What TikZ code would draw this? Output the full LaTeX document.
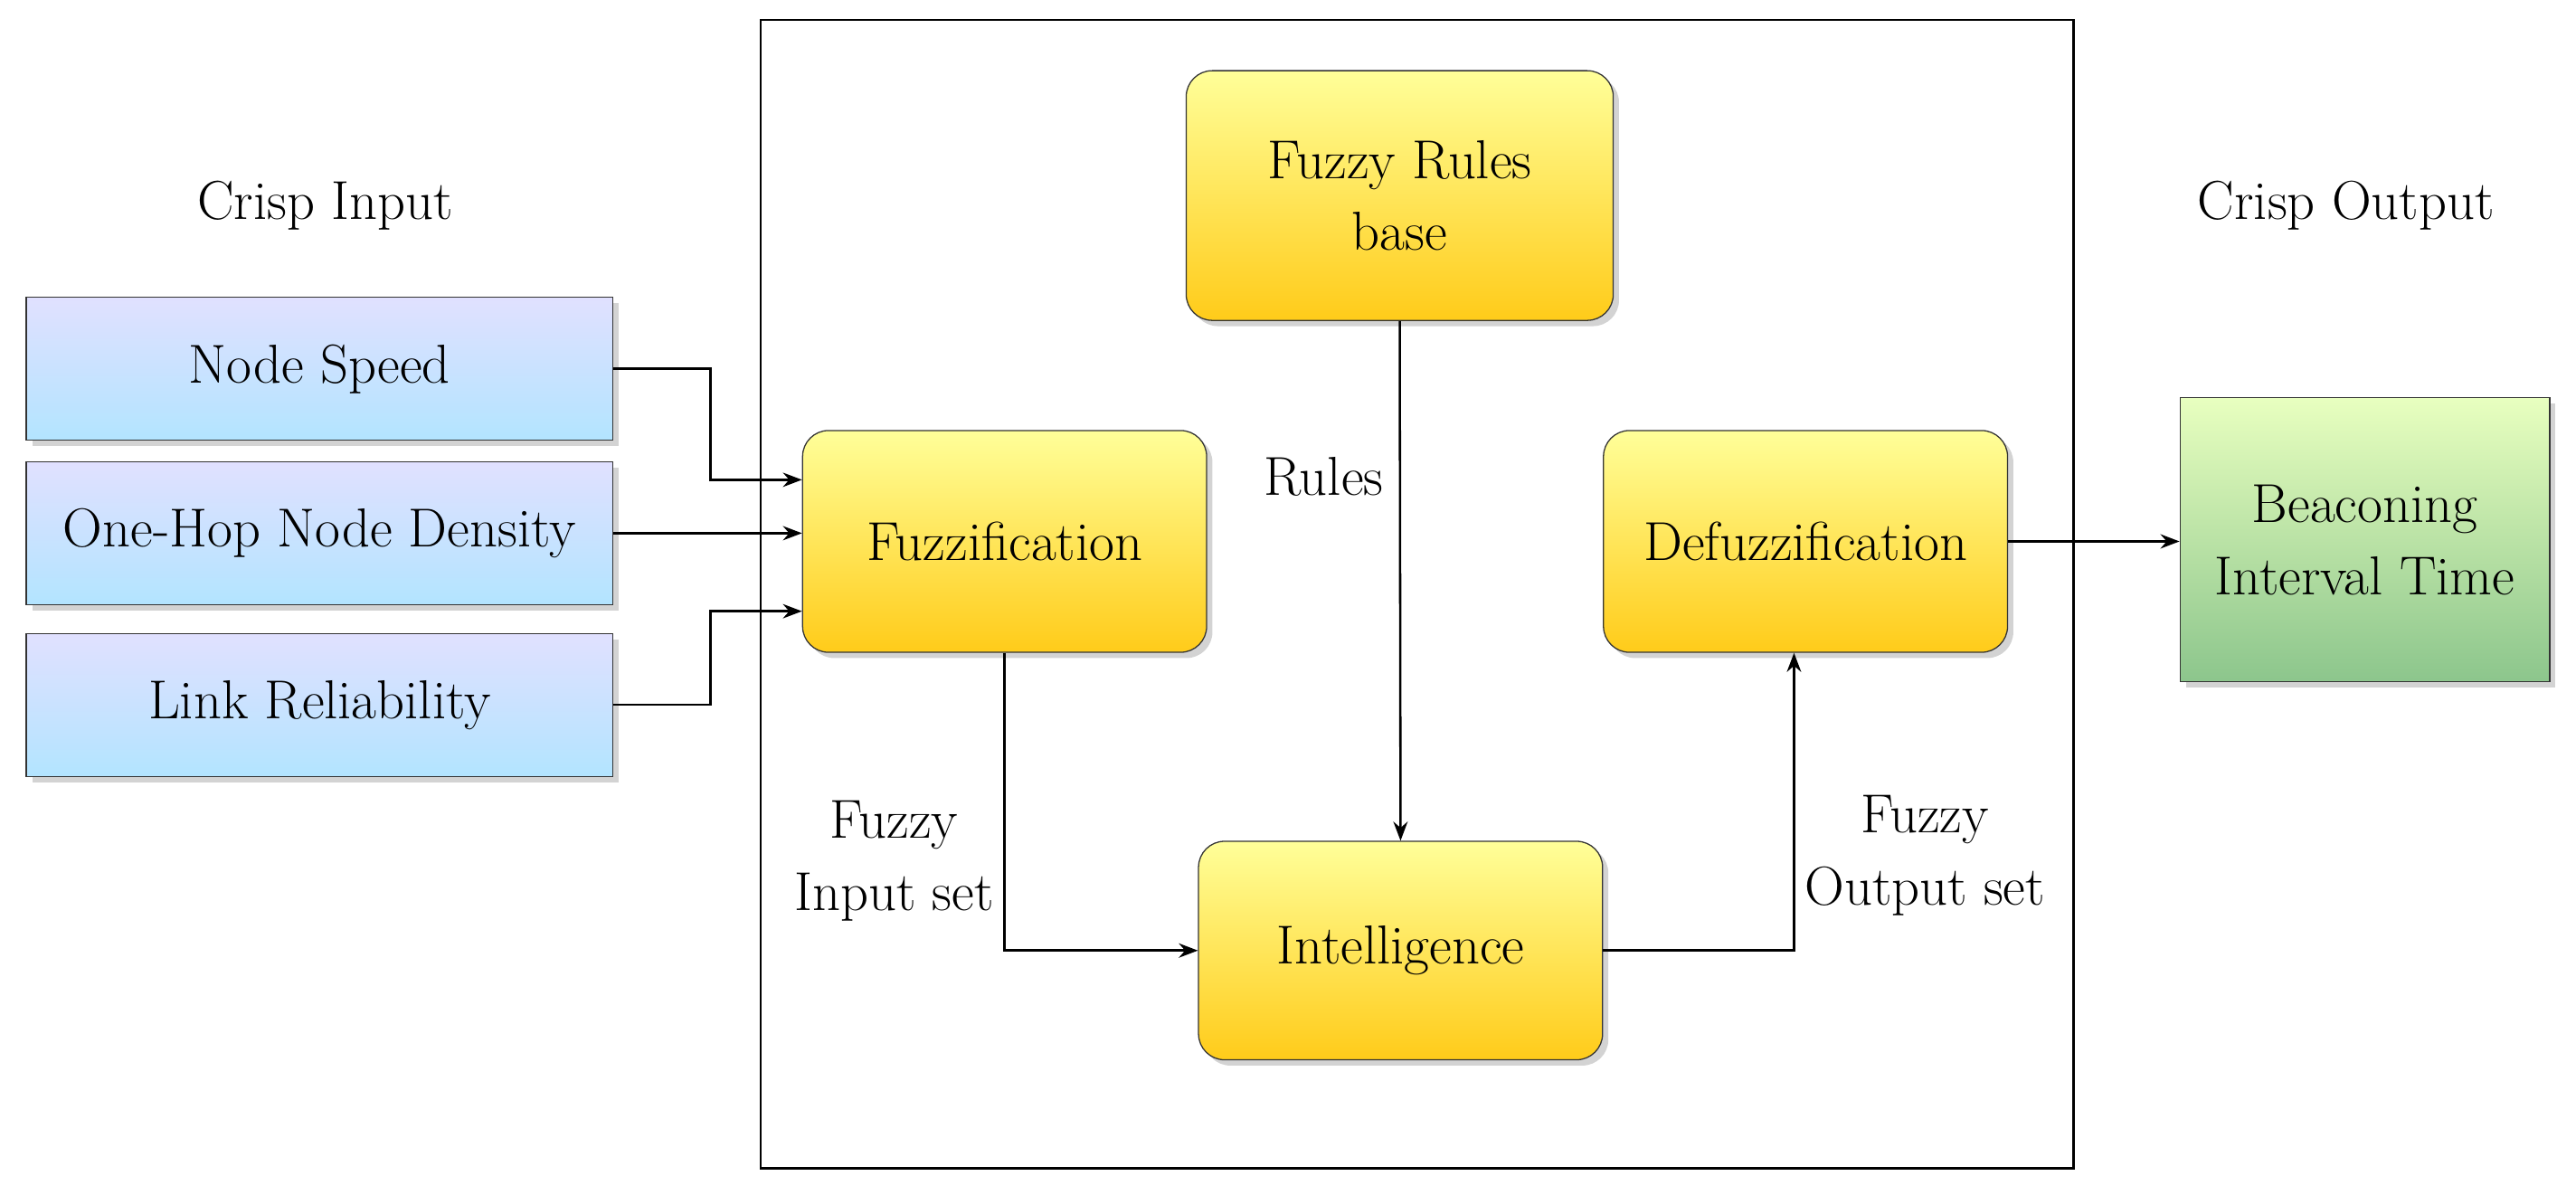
\documentclass[tikz,border=0pt]{standalone}
\usepackage{tikz}
\usetikzlibrary{arrows.meta,shadows}

\tikzset{
    box/.style={thin, draw=black!80, rectangle, rounded corners=2pt, align=center, drop shadow={opacity=0.35, shadow xshift=2pt, shadow yshift=-2pt}},
    inbox/.style={box, rounded corners=0pt, top color=blue!12, bottom color=blue!35!cyan!30, minimum width=7.14cm, minimum height=1.74cm},
    fzbox/.style={box, rounded corners=9pt, top color=yellow!40, bottom color=orange!45!yellow!90, minimum width=4.92cm, minimum height=2.7cm},
    outbox/.style={box, rounded corners=0pt, top color=green!15!lime!25, bottom color=green!50!black!45, minimum width=4.5cm, minimum height=3.46cm},
    arr/.style={-Stealth, thick}
}

\begin{document}
\begin{tikzpicture}[x=0.02cm, y=-0.02cm, font=\fontsize{19}{25}\selectfont]
    \useasboundingbox (0,0) rectangle (1568,727);
    \draw[thick](463,12)rectangle(1262,711);
    \node(ci) at (198,125){Crisp Input};
    \node(co) at (1428,125){Crisp Output};
    \node[inbox](ns) at (194.5,224.5){Node Speed};
    \node[inbox](hd) at (194.5,324.5){One-Hop Node Density};
    \node[inbox](lr) at (194.5,429){Link Reliability};
    \node[fzbox](fz) at (611.5,329.5){Fuzzification};
    \node[fzbox, minimum width=5.2cm, minimum height=3.04cm](rb) at (852,119){Fuzzy Rules\\base};
    \node[fzbox](df) at (1099,329.5){Defuzzification};
    \node[fzbox, minimum height=2.66cm](ig) at (852.5,578.5){Intelligence};
    \node[outbox](bt) at (1439.5,328.5){Beaconing\\Interval Time};
    \draw[arr](ns.east)--++(59,0)|-(fz.west |- 0,292);
    \draw[arr](hd.east)--(fz.west |- hd.east);
    \draw[arr](lr.east)--++(59,0)|-(fz.west |- 0,372);
    \draw[arr](rb.south)--(ig.north)node[pos=0.3, left=2pt]{Rules};
    \draw[arr](fz.south)|-(ig.west)node[pos=0.35, left, align=center]{Fuzzy\\Input set};
    \draw[arr](ig.east)-|(df.south -| 1092,0)node[pos=0.66, right, align=center]{Fuzzy\\Output set};
    \draw[arr](df.east)--(bt.west |- df.east);
\end{tikzpicture}
\end{document}
